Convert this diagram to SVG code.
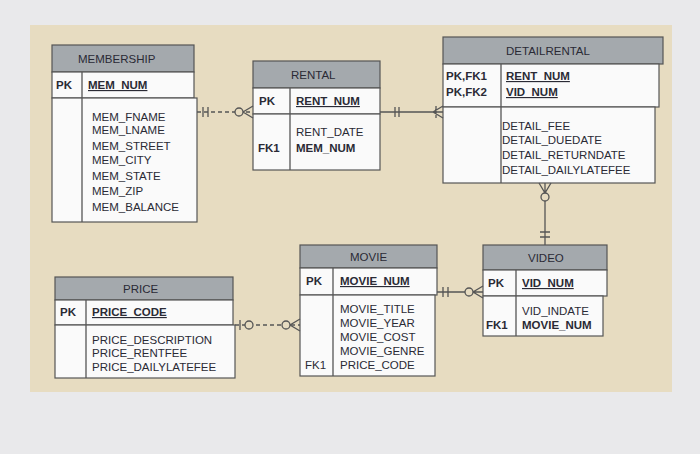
<svg xmlns="http://www.w3.org/2000/svg" width="700" height="454" viewBox="0 0 700 454">
<style>
.h{fill:#a4a9ad;stroke:#555;stroke-width:1.2}
.b{fill:#fafafa;stroke:#555;stroke-width:1.2}
.t{font-family:"Liberation Sans",Arial,sans-serif;font-size:11.5px;fill:#2a2a35}
.k{font-weight:bold}
.u{text-decoration:underline}
.c{fill:none;stroke:#555;stroke-width:1.3}
.d{stroke-dasharray:4 3}
</style>
<rect width="700" height="454" fill="#e9e9eb"/>
<rect x="30" y="25" width="642" height="367" fill="#e7dcc1"/>
<g id="membership">
<rect class="h" x="52" y="45" width="142" height="27"/>
<text class="t" x="78" y="63">MEMBERSHIP</text>
<rect class="b" x="52" y="72" width="142" height="26"/>
<line class="c" x1="82" y1="72" x2="82" y2="222"/>
<text class="t k" x="56" y="89">PK</text>
<text class="t k u" x="88" y="89">MEM_NUM</text>
<rect class="b" x="52" y="98" width="145" height="124"/>
<line class="c" x1="82" y1="98" x2="82" y2="222"/>
<text class="t" x="92" y="121">MEM_FNAME</text>
<text class="t" x="92" y="134">MEM_LNAME</text>
<text class="t" x="92" y="150">MEM_STREET</text>
<text class="t" x="92" y="164">MEM_CITY</text>
<text class="t" x="92" y="180">MEM_STATE</text>
<text class="t" x="92" y="195">MEM_ZIP</text>
<text class="t" x="92" y="211">MEM_BALANCE</text>
</g>
<g id="rental">
<rect class="h" x="253" y="61" width="127" height="27"/>
<text class="t" x="291" y="79">RENTAL</text>
<rect class="b" x="253" y="88" width="127" height="26"/>
<line class="c" x1="290" y1="88" x2="290" y2="170"/>
<text class="t k" x="259" y="105">PK</text>
<text class="t k u" x="296" y="105">RENT_NUM</text>
<rect class="b" x="253" y="114" width="127" height="56"/>
<line class="c" x1="290" y1="114" x2="290" y2="170"/>
<text class="t" x="296" y="136">RENT_DATE</text>
<text class="t k" x="258" y="152">FK1</text>
<text class="t k" x="296" y="152">MEM_NUM</text>
</g>
<g id="detailrental">
<rect class="h" x="443" y="37" width="220" height="27"/>
<text class="t" x="506" y="55">DETAILRENTAL</text>
<rect class="b" x="443" y="64" width="216" height="43"/>
<line class="c" x1="501" y1="64" x2="501" y2="183"/>
<text class="t k" x="446" y="80">PK,FK1</text>
<text class="t k u" x="506" y="80">RENT_NUM</text>
<text class="t k" x="446" y="96">PK,FK2</text>
<text class="t k u" x="506" y="96">VID_NUM</text>
<rect class="b" x="443" y="107" width="212" height="76"/>
<line class="c" x1="501" y1="107" x2="501" y2="183"/>
<text class="t" x="502" y="130">DETAIL_FEE</text>
<text class="t" x="502" y="144">DETAIL_DUEDATE</text>
<text class="t" x="502" y="159">DETAIL_RETURNDATE</text>
<text class="t" x="502" y="174">DETAIL_DAILYLATEFEE</text>
</g>
<g id="movie">
<rect class="h" x="300" y="245" width="137" height="23"/>
<text class="t" x="350" y="261">MOVIE</text>
<rect class="b" x="300" y="268" width="137" height="27"/>
<line class="c" x1="333" y1="268" x2="333" y2="376"/>
<text class="t k" x="306" y="285">PK</text>
<text class="t k u" x="340" y="285">MOVIE_NUM</text>
<rect class="b" x="300" y="295" width="135" height="81"/>
<line class="c" x1="333" y1="295" x2="333" y2="376"/>
<text class="t" x="340" y="313">MOVIE_TITLE</text>
<text class="t" x="340" y="327">MOVIE_YEAR</text>
<text class="t" x="340" y="341">MOVIE_COST</text>
<text class="t" x="340" y="355">MOVIE_GENRE</text>
<text class="t" x="305" y="369">FK1</text>
<text class="t" x="340" y="369">PRICE_CODE</text>
</g>
<g id="video">
<rect class="h" x="483" y="245" width="124" height="25"/>
<text class="t" x="528" y="262">VIDEO</text>
<rect class="b" x="483" y="270" width="124" height="26"/>
<line class="c" x1="516" y1="270" x2="516" y2="336"/>
<text class="t k" x="488" y="287">PK</text>
<text class="t k u" x="522" y="287">VID_NUM</text>
<rect class="b" x="483" y="296" width="120" height="40"/>
<line class="c" x1="516" y1="296" x2="516" y2="336"/>
<text class="t" x="522" y="315">VID_INDATE</text>
<text class="t k" x="486" y="329">FK1</text>
<text class="t k" x="522" y="329">MOVIE_NUM</text>
</g>
<g id="price">
<rect class="h" x="55" y="277" width="178" height="23"/>
<text class="t" x="123" y="293">PRICE</text>
<rect class="b" x="55" y="300" width="178" height="25"/>
<line class="c" x1="86" y1="300" x2="86" y2="378"/>
<text class="t k" x="60" y="316">PK</text>
<text class="t k u" x="92" y="316">PRICE_CODE</text>
<rect class="b" x="55" y="325" width="180" height="53"/>
<line class="c" x1="86" y1="325" x2="86" y2="378"/>
<text class="t" x="92" y="344">PRICE_DESCRIPTION</text>
<text class="t" x="92" y="357">PRICE_RENTFEE</text>
<text class="t" x="92" y="371">PRICE_DAILYLATEFEE</text>
</g>
<g id="connectors">
<path class="c d" d="M197,112 H253"/>
<path class="c" d="M203,107 v10 M208,107 v10 M253,106 L243,112 L253,118"/>
<circle cx="239" cy="112" r="4" fill="#e7dcc1" stroke="#555" stroke-width="1.3"/>
<path class="c" d="M380,112 H443 M395,107 v10 M399,107 v10 M436,106 v12 M443,106 L433,112 L443,118"/>
<path class="c" d="M545,183 V245 M539,183 L545,193 L551,183 M540,232 h10 M540,237 h10"/>
<circle cx="545" cy="197" r="4" fill="#e7dcc1" stroke="#555" stroke-width="1.3"/>
<path class="c" d="M437,292 H483 M443,287 v10 M448,287 v10 M483,286 L473,292 L483,298"/>
<circle cx="469" cy="292" r="4" fill="#e7dcc1" stroke="#555" stroke-width="1.3"/>
<path class="c d" d="M235,325 H300"/>
<path class="c" d="M240,320 v10 M300,319 L290,325 L300,331"/>
<circle cx="249" cy="325" r="4" fill="#e7dcc1" stroke="#555" stroke-width="1.3"/>
<circle cx="286" cy="325" r="4" fill="#e7dcc1" stroke="#555" stroke-width="1.3"/>
</g>
</svg>
